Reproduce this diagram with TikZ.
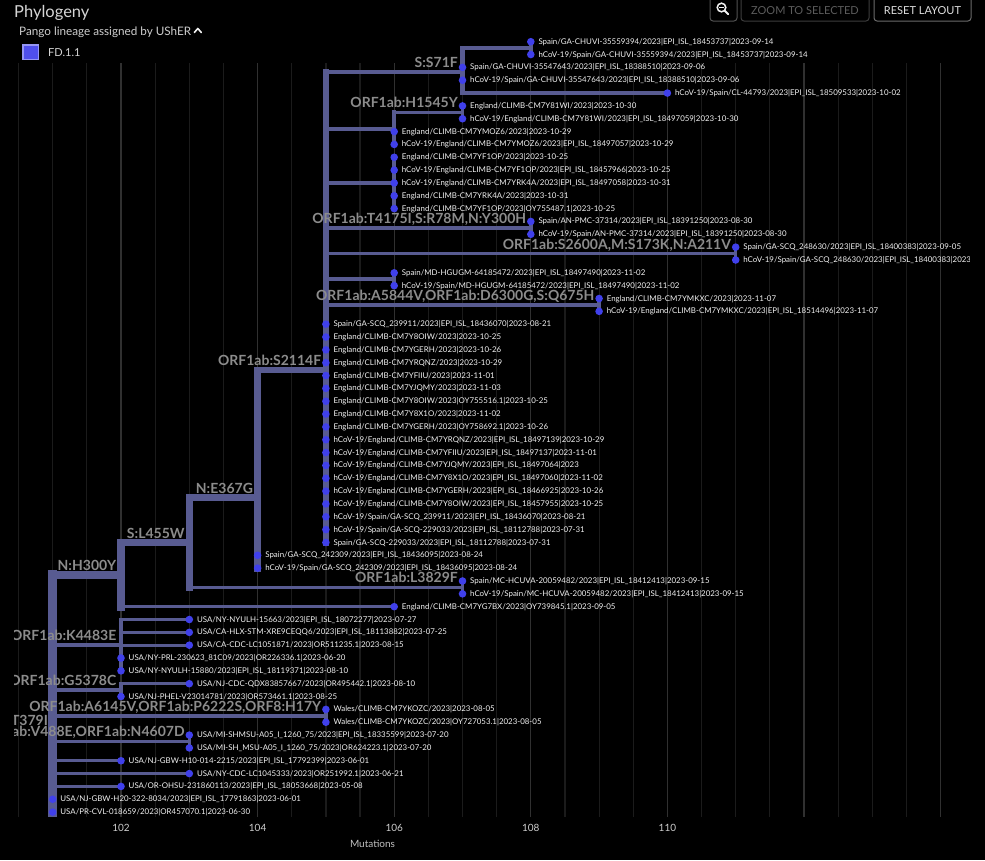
\documentclass[tikz,border=0pt]{standalone}
\usepackage{fontspec}
\setmainfont{Lato}
\definecolor{treec}{HTML}{585B91}
\definecolor{dotc}{HTML}{4040EB}
\definecolor{mutc}{HTML}{8C8C8C}
\definecolor{leafc}{HTML}{F2F2F2}
\definecolor{gridmin}{HTML}{1B1B1B}
\definecolor{gridmaj}{HTML}{303030}
\begin{document}
\begin{tikzpicture}[x=1pt,y=-1pt,
  tree/.style={draw=treec, line cap=rect},
  mut/.style={anchor=base east, inner sep=0pt, text=mutc, font=\fontsize{14}{14}\selectfont\bfseries},
  lf/.style={anchor=mid west, inner sep=0pt, text=leafc, font=\fontsize{7.9}{9}\selectfont},
  btn/.style={rounded corners=3pt, line width=1pt},
  hdr/.style={inner sep=0pt, anchor=base west}]
\fill[black] (0,0) rectangle (985,860);
\useasboundingbox (0,0) rectangle (985,860);

% ---- tree data ----
\def\internals{%
\inode{root}{101}{54.6006}{root}{9}{42.506}{61}{T379I}%
\inode{H300Y}{102}{42.506}{root}{8}{40.011}{45}{N:H300Y}%
\inode{L455W}{103}{40.011}{H300Y}{7.5}{36.523}{43.5}{S:L455W}%
\inode{E367G}{104}{36.523}{L455W}{7}{26.568}{42}{N:E367G}%
\inode{S2114F}{105}{26.568}{E367G}{6.5}{3.375}{40}{ORF1ab:S2114F}%
\inode{S71F}{107}{3.375}{S2114F}{4.3}{1.5}{5}{S:S71F}%
\inode{R}{108}{1.5}{S71F}{3.5}{1}{2}{}%
\inode{P}{106}{7.8333}{S2114F}{4}{6.5}{9}{}%
\inode{H1545Y}{107}{6.5}{P}{3.5}{6}{7}{ORF1ab:H1545Y}%
\inode{Q}{106}{12}{S2114F}{4}{10}{14}{}%
\inode{T4175I}{108}{15.5}{S2114F}{3.5}{15}{16}{ORF1ab:T4175I,S:R78M,N:Y300H}%
\inode{S2600A}{111}{17.5}{S2114F}{3.5}{17}{18}{ORF1ab:S2600A,M:S173K,N:A211V}%
\inode{N19}{106}{19.5}{S2114F}{3.5}{19}{20}{}%
\inode{A5844V}{109}{21.5}{S2114F}{3.5}{21}{22}{ORF1ab:A5844V,ORF1ab:D6300G,S:Q675H}%
\inode{L3829F}{107}{43.5}{L455W}{3.5}{43}{44}{ORF1ab:L3829F}%
\inode{K4483E}{102}{48}{root}{4}{46}{50}{ORF1ab:K4483E}%
\inode{G5378C}{102}{51.5}{root}{3.5}{51}{52}{ORF1ab:G5378C}%
\inode{A6145V}{105}{53.5}{root}{3.5}{53}{54}{ORF1ab:A6145V,ORF1ab:P6222S,ORF8:H17Y}%
\inode{V488E}{103}{55.5}{root}{3.5}{55}{56}{ORF1ab:V488E,ORF1ab:N4607D}%
}
\def\leaves{%
\leaf{1}{108}{R}{Spain/GA-CHUVI-35559394/2023|EPI\_ISL\_18453737|2023-09-14}%
\leaf{2}{108}{R}{hCoV-19/Spain/GA-CHUVI-35559394/2023|EPI\_ISL\_18453737|2023-09-14}%
\leaf{3}{107}{S71F}{Spain/GA-CHUVI-35547643/2023|EPI\_ISL\_18388510|2023-09-06}%
\leaf{4}{107}{S71F}{hCoV-19/Spain/GA-CHUVI-35547643/2023|EPI\_ISL\_18388510|2023-09-06}%
\leaf{5}{110}{S71F}{hCoV-19/Spain/CL-44793/2023|EPI\_ISL\_18509533|2023-10-02}%
\leaf{6}{107}{H1545Y}{England/CLIMB-CM7Y81WI/2023|2023-10-30}%
\leaf{7}{107}{H1545Y}{hCoV-19/England/CLIMB-CM7Y81WI/2023|EPI\_ISL\_18497059|2023-10-30}%
\leaf{8}{106}{P}{England/CLIMB-CM7YMOZ6/2023|2023-10-29}%
\leaf{9}{106}{P}{hCoV-19/England/CLIMB-CM7YMOZ6/2023|EPI\_ISL\_18497057|2023-10-29}%
\leaf{10}{106}{Q}{England/CLIMB-CM7YF1OP/2023|2023-10-25}%
\leaf{11}{106}{Q}{hCoV-19/England/CLIMB-CM7YF1OP/2023|EPI\_ISL\_18457966|2023-10-25}%
\leaf{12}{106}{Q}{hCoV-19/England/CLIMB-CM7YRK4A/2023|EPI\_ISL\_18497058|2023-10-31}%
\leaf{13}{106}{Q}{England/CLIMB-CM7YRK4A/2023|2023-10-31}%
\leaf{14}{106}{Q}{England/CLIMB-CM7YF1OP/2023|OY755487.1|2023-10-25}%
\leaf{15}{108}{T4175I}{Spain/AN-PMC-37314/2023|EPI\_ISL\_18391250|2023-08-30}%
\leaf{16}{108}{T4175I}{hCoV-19/Spain/AN-PMC-37314/2023|EPI\_ISL\_18391250|2023-08-30}%
\leaf{17}{111}{S2600A}{Spain/GA-SCQ\_248630/2023|EPI\_ISL\_18400383|2023-09-05}%
\leaf{18}{111}{S2600A}{hCoV-19/Spain/GA-SCQ\_248630/2023|EPI\_ISL\_18400383|2023-09-05}%
\leaf{19}{106}{N19}{Spain/MD-HGUGM-64185472/2023|EPI\_ISL\_18497490|2023-11-02}%
\leaf{20}{106}{N19}{hCoV-19/Spain/MD-HGUGM-64185472/2023|EPI\_ISL\_18497490|2023-11-02}%
\leaf{21}{109}{A5844V}{England/CLIMB-CM7YMKXC/2023|2023-11-07}%
\leaf{22}{109}{A5844V}{hCoV-19/England/CLIMB-CM7YMKXC/2023|EPI\_ISL\_18514496|2023-11-07}%
\leaf{23}{105}{S2114F}{Spain/GA-SCQ\_239911/2023|EPI\_ISL\_18436070|2023-08-21}%
\leaf{24}{105}{S2114F}{England/CLIMB-CM7Y8OIW/2023|2023-10-25}%
\leaf{25}{105}{S2114F}{England/CLIMB-CM7YGERH/2023|2023-10-26}%
\leaf{26}{105}{S2114F}{England/CLIMB-CM7YRQNZ/2023|2023-10-29}%
\leaf{27}{105}{S2114F}{England/CLIMB-CM7YFIIU/2023|2023-11-01}%
\leaf{28}{105}{S2114F}{England/CLIMB-CM7YJQMY/2023|2023-11-03}%
\leaf{29}{105}{S2114F}{England/CLIMB-CM7Y8OIW/2023|OY755516.1|2023-10-25}%
\leaf{30}{105}{S2114F}{England/CLIMB-CM7Y8X1O/2023|2023-11-02}%
\leaf{31}{105}{S2114F}{England/CLIMB-CM7YGERH/2023|OY758692.1|2023-10-26}%
\leaf{32}{105}{S2114F}{hCoV-19/England/CLIMB-CM7YRQNZ/2023|EPI\_ISL\_18497139|2023-10-29}%
\leaf{33}{105}{S2114F}{hCoV-19/England/CLIMB-CM7YFIIU/2023|EPI\_ISL\_18497137|2023-11-01}%
\leaf{34}{105}{S2114F}{hCoV-19/England/CLIMB-CM7YJQMY/2023|EPI\_ISL\_18497064|2023}%
\leaf{35}{105}{S2114F}{hCoV-19/England/CLIMB-CM7Y8X1O/2023|EPI\_ISL\_18497060|2023-11-02}%
\leaf{36}{105}{S2114F}{hCoV-19/England/CLIMB-CM7YGERH/2023|EPI\_ISL\_18466925|2023-10-26}%
\leaf{37}{105}{S2114F}{hCoV-19/England/CLIMB-CM7Y8OIW/2023|EPI\_ISL\_18457955|2023-10-25}%
\leaf{38}{105}{S2114F}{hCoV-19/Spain/GA-SCQ\_239911/2023|EPI\_ISL\_18436070|2023-08-21}%
\leaf{39}{105}{S2114F}{hCoV-19/Spain/GA-SCQ-229033/2023|EPI\_ISL\_18112788|2023-07-31}%
\leaf{40}{105}{S2114F}{Spain/GA-SCQ-229033/2023|EPI\_ISL\_18112788|2023-07-31}%
\leaf{41}{104}{E367G}{Spain/GA-SCQ\_242309/2023|EPI\_ISL\_18436095|2023-08-24}%
\leaf{42}{104}{E367G}{hCoV-19/Spain/GA-SCQ\_242309/2023|EPI\_ISL\_18436095|2023-08-24}%
\leaf{43}{107}{L3829F}{Spain/MC-HCUVA-20059482/2023|EPI\_ISL\_18412413|2023-09-15}%
\leaf{44}{107}{L3829F}{hCoV-19/Spain/MC-HCUVA-20059482/2023|EPI\_ISL\_18412413|2023-09-15}%
\leaf{45}{106}{H300Y}{England/CLIMB-CM7YG7BX/2023|OY739845.1|2023-09-05}%
\leaf{46}{103}{K4483E}{USA/NY-NYULH-15663/2023|EPI\_ISL\_18072277|2023-07-27}%
\leaf{47}{103}{K4483E}{USA/CA-HLX-STM-XRE9CEQQ6/2023|EPI\_ISL\_18113882|2023-07-25}%
\leaf{48}{103}{K4483E}{USA/CA-CDC-LC1051871/2023|OR511235.1|2023-08-15}%
\leaf{49}{102}{K4483E}{USA/NY-PRL-230623\_81C09/2023|OR226336.1|2023-06-20}%
\leaf{50}{102}{K4483E}{USA/NY-NYULH-15880/2023|EPI\_ISL\_18119371|2023-08-10}%
\leaf{51}{103}{G5378C}{USA/NJ-CDC-QDX83857667/2023|OR495442.1|2023-08-10}%
\leaf{52}{102}{G5378C}{USA/NJ-PHEL-V23014781/2023|OR573461.1|2023-08-25}%
\leaf{53}{105}{A6145V}{Wales/CLIMB-CM7YKOZC/2023|2023-08-05}%
\leaf{54}{105}{A6145V}{Wales/CLIMB-CM7YKOZC/2023|OY727053.1|2023-08-05}%
\leaf{55}{103}{V488E}{USA/MI-SHMSU-A05\_I\_1260\_75/2023|EPI\_ISL\_18335599|2023-07-20}%
\leaf{56}{103}{V488E}{USA/MI-SH\_MSU-A05\_I\_1260\_75/2023|OR624223.1|2023-07-20}%
\leaf{57}{102}{root}{USA/NJ-GBW-H10-014-2215/2023|EPI\_ISL\_17792399|2023-06-01}%
\leaf{58}{103}{root}{USA/NY-CDC-LC1045333/2023|OR251992.1|2023-06-21}%
\leaf{59}{102}{root}{USA/OR-OHSU-231860113/2023|EPI\_ISL\_18053668|2023-05-08}%
\leaf{60}{101}{root}{USA/NJ-GBW-H20-322-8034/2023|EPI\_ISL\_17791863|2023-06-01}%
\leaf{61}{101}{root}{USA/PR-CVL-018659/2023|OR457070.1|2023-06-30}%
}

\begin{scope}
\clip (14,0) rectangle (969,860);
% grid
\foreach \k in {-3,...,24} \draw[gridmin, line width=1.2pt] ({121+34.15*\k},63) -- ({121+34.15*\k},817);
\foreach \k in {0,4,...,24} \draw[gridmaj, line width=1.2pt] ({121+34.15*\k},63) -- ({121+34.15*\k},817);
% pass A: coordinates
\def\inode#1#2#3#4#5#6#7#8{\coordinate (#1) at ({121+68.3*(#2-102)},{41.7+12.84*(#3-1)});}
\def\leaf#1#2#3#4{\coordinate (L#1) at ({121+68.3*(#2-102)},{41.7+12.84*(#1-1)});}
\internals
\leaves
% pass B: lines
\def\inode#1#2#3#4#5#6#7#8{%
  \draw[tree, line width=#5pt] (#4 |- #1) -- (#1);%
  \draw[tree, line width=#5pt] ({121+68.3*(#2-102)},{41.7+12.84*(#6-1)}) -- ({121+68.3*(#2-102)},{41.7+12.84*(#7-1)});}
\def\leaf#1#2#3#4{\draw[tree, line width=3.2pt] (#3 |- L#1) -- (L#1);}
\internals
\leaves
% pass C: dots and names
\def\leaf#1#2#3#4{\fill[dotc] (L#1) circle (3.8pt);
  \node[lf] at ([xshift=7.5pt]L#1) {#4};}
\leaves
% pass D: mutation labels
\def\inode#1#2#3#4#5#6#7#8{\node[mut] at ([xshift=-4.5pt,yshift=4.5pt]#1) {#8};}
\internals
\end{scope}

% axis
\foreach \m/\xx in {102/121,104/257.6,106/394.2,108/530.8,110/667.4}
  \node[inner sep=0pt, text=leafc!85!black, font=\fontsize{10}{10}\selectfont] (ax\m) at (\xx,827.5) {\m};
\node[inner sep=0pt, text=leafc!80!black, font=\fontsize{10}{10}\selectfont] (axlab) at (372.5,844) {Mutations};

% header
\node[hdr, text=leafc!88!black, font=\fontsize{16.5}{17}\selectfont] (title) at (14,17) {Phylogeny};
\node[hdr, text=leafc!85!black, font=\fontsize{11.7}{12}\selectfont] (pango) at (19,35) {Pango lineage assigned by UShER};
\draw[leafc, line width=1.6pt, line cap=round, line join=round] ([xshift=3pt,yshift=2.5pt]pango.base east) -- ++(3.5,-4) -- ++(3.5,4);
\fill[dotc!92!white, draw=dotc!55!white, line width=1.2pt] (23,45) rectangle (38.5,59.5);
\node[hdr, text=leafc!88!black, font=\fontsize{11}{12}\selectfont] (fd) at (48,56) {FD.1.1};

% buttons
\draw[btn, draw=white!32!black] (710,-4) rectangle (737,21);
\draw[leafc, line width=1.5pt] (721.5,7.5) circle (4.3pt);
\draw[leafc, line width=1.5pt] (719.3,7.5) -- (723.7,7.5);
\draw[leafc, line width=1.8pt, line cap=round] (724.8,10.8) -- (728.3,14.3);
\draw[btn, draw=white!24!black] (741,-4) rectangle (869,21);
\node[inner sep=0pt, text=white!36!black, font=\fontsize{11}{11}\selectfont] (zts) at (805,11) {ZOOM TO SELECTED};
\draw[btn, draw=white!42!black] (874,-4) rectangle (971,21);
\node[inner sep=0pt, text=leafc!92!black, font=\fontsize{11}{11}\selectfont] (rl) at (922.5,11) {RESET LAYOUT};
\end{tikzpicture}
\end{document}
